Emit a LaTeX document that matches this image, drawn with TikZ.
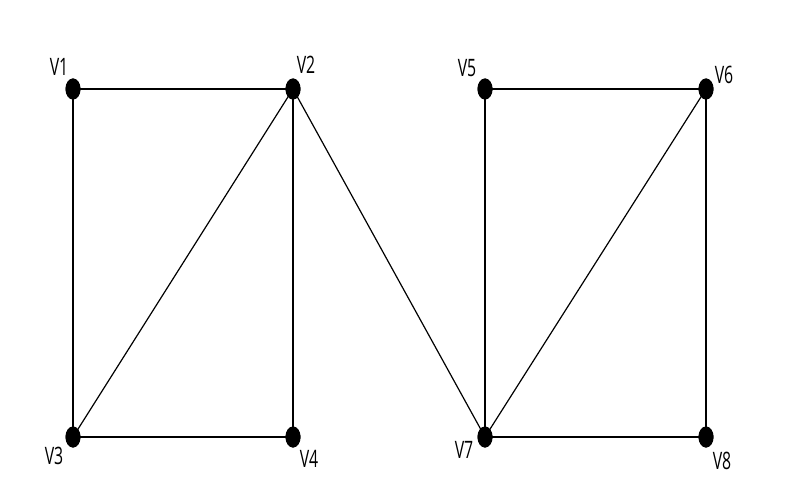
\documentclass[tikz,border=0pt]{standalone}
\usepackage{fontspec}
\setmainfont{Open Sans}
\usetikzlibrary{shapes.geometric}
\begin{document}
\begin{tikzpicture}[x=1pt,y=-1pt,
  vtx/.style={ellipse,fill=black,inner sep=0pt,minimum width=15pt,minimum height=21pt},
  lbl/.style={inner sep=0pt,font=\fontsize{24}{24}\selectfont},
  edge/.style={line width=1.8pt},
  side/.style={line width=1.2pt}]
\useasboundingbox (0,0) rectangle (810,492);
\fill[white] (0,0) rectangle (810,492);
\node[vtx] (v1) at (73,89) {};
\node[vtx] (v2) at (293,89) {};
\node[vtx] (v3) at (73,437) {};
\node[vtx] (v4) at (293,437) {};
\node[vtx] (v5) at (485,89) {};
\node[vtx] (v6) at (706,89) {};
\node[vtx] (v7) at (485,437) {};
\node[vtx] (v8) at (706,437) {};
\node[lbl] (l1) at (59,67) {\scalebox{0.66}[1]{V1}};
\node[lbl] (l2) at (306,65) {\scalebox{0.66}[1]{V2}};
\node[lbl] (l3) at (54,456) {\scalebox{0.66}[1]{V3}};
\node[lbl] (l4) at (309,459) {\scalebox{0.66}[1]{V4}};
\node[lbl] (l5) at (467,68) {\scalebox{0.66}[1]{V5}};
\node[lbl] (l6) at (724,75) {\scalebox{0.66}[1]{V6}};
\node[lbl] (l7) at (464,450) {\scalebox{0.66}[1]{V7}};
\node[lbl] (l8) at (722,461) {\scalebox{0.66}[1]{V8}};
\draw[edge] (v1.center) -- (v2.center);
\draw[edge] (v3.center) -- (v4.center);
\draw[edge] (v5.center) -- (v6.center);
\draw[edge] (v7.center) -- (v8.center);
\draw[side] (v1.center) -- (v3.center);
\draw[side] (v2.center) -- (v4.center);
\draw[side] (v2.center) -- (v3.center);
\draw[side] (v2.center) -- (v7.center);
\draw[side] (v5.center) -- (v7.center);
\draw[side] (v6.center) -- (v7.center);
\draw[side] (v6.center) -- (v8.center);
\foreach \v in {v1,v2,v3,v4,v5,v6,v7,v8} \node[vtx] at (\v) {};
\end{tikzpicture}
\end{document}
